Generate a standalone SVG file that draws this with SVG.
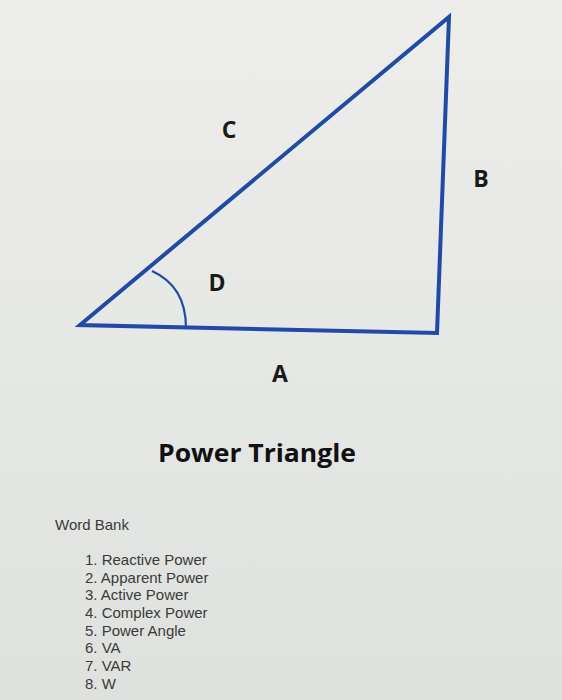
<svg xmlns="http://www.w3.org/2000/svg" width="562" height="700" viewBox="0 0 562 700">
<defs>
<linearGradient id="bg" x1="0" y1="0" x2="0" y2="1">
<stop offset="0" stop-color="#ededeb"/>
<stop offset="0.5" stop-color="#e6e8e5"/>
<stop offset="1" stop-color="#dfe1df"/>
</linearGradient>
</defs>
<style>
.edge{fill:none;stroke:#1f4aa6;stroke-width:4;stroke-linejoin:miter}
.arc{fill:none;stroke:#1f4aa6;stroke-width:2.2}
.lbl{font-family:"Open Sans","Liberation Sans",sans-serif;font-weight:bold;font-size:23px;fill:#1a1a1a;text-anchor:middle}
.title{font-family:"Open Sans","Liberation Sans",sans-serif;font-weight:bold;font-size:25px;fill:#111}
.wb{font-family:"Liberation Sans",Arial,sans-serif;font-size:15px;fill:#3a3a3a}
</style>
<rect width="562" height="700" fill="url(#bg)"/>
<g id="connectors">
<path id="triangle" class="edge" d="M80,325 L449,17 L437,333 Z"/>
<path id="angle-arc" class="arc" d="M152,271 C172,280 186,298 186,328"/>
</g>
<g id="label-C"><text class="lbl" x="229" y="138">C</text></g>
<g id="label-B"><text class="lbl" x="481" y="187">B</text></g>
<g id="label-D"><text class="lbl" x="217" y="291">D</text></g>
<g id="label-A"><text class="lbl" x="280" y="382">A</text></g>
<g id="title"><text class="title" x="158" y="462" textLength="198" lengthAdjust="spacingAndGlyphs">Power Triangle</text></g>
<g id="word-bank">
<text class="wb" x="55" y="530">Word Bank</text>
<text class="wb" x="85" y="565">1. Reactive Power</text>
<text class="wb" x="85" y="583">2. Apparent Power</text>
<text class="wb" x="85" y="600">3. Active Power</text>
<text class="wb" x="85" y="618">4. Complex Power</text>
<text class="wb" x="85" y="636">5. Power Angle</text>
<text class="wb" x="85" y="653">6. VA</text>
<text class="wb" x="85" y="671">7. VAR</text>
<text class="wb" x="85" y="689">8. W</text>
</g>
</svg>
